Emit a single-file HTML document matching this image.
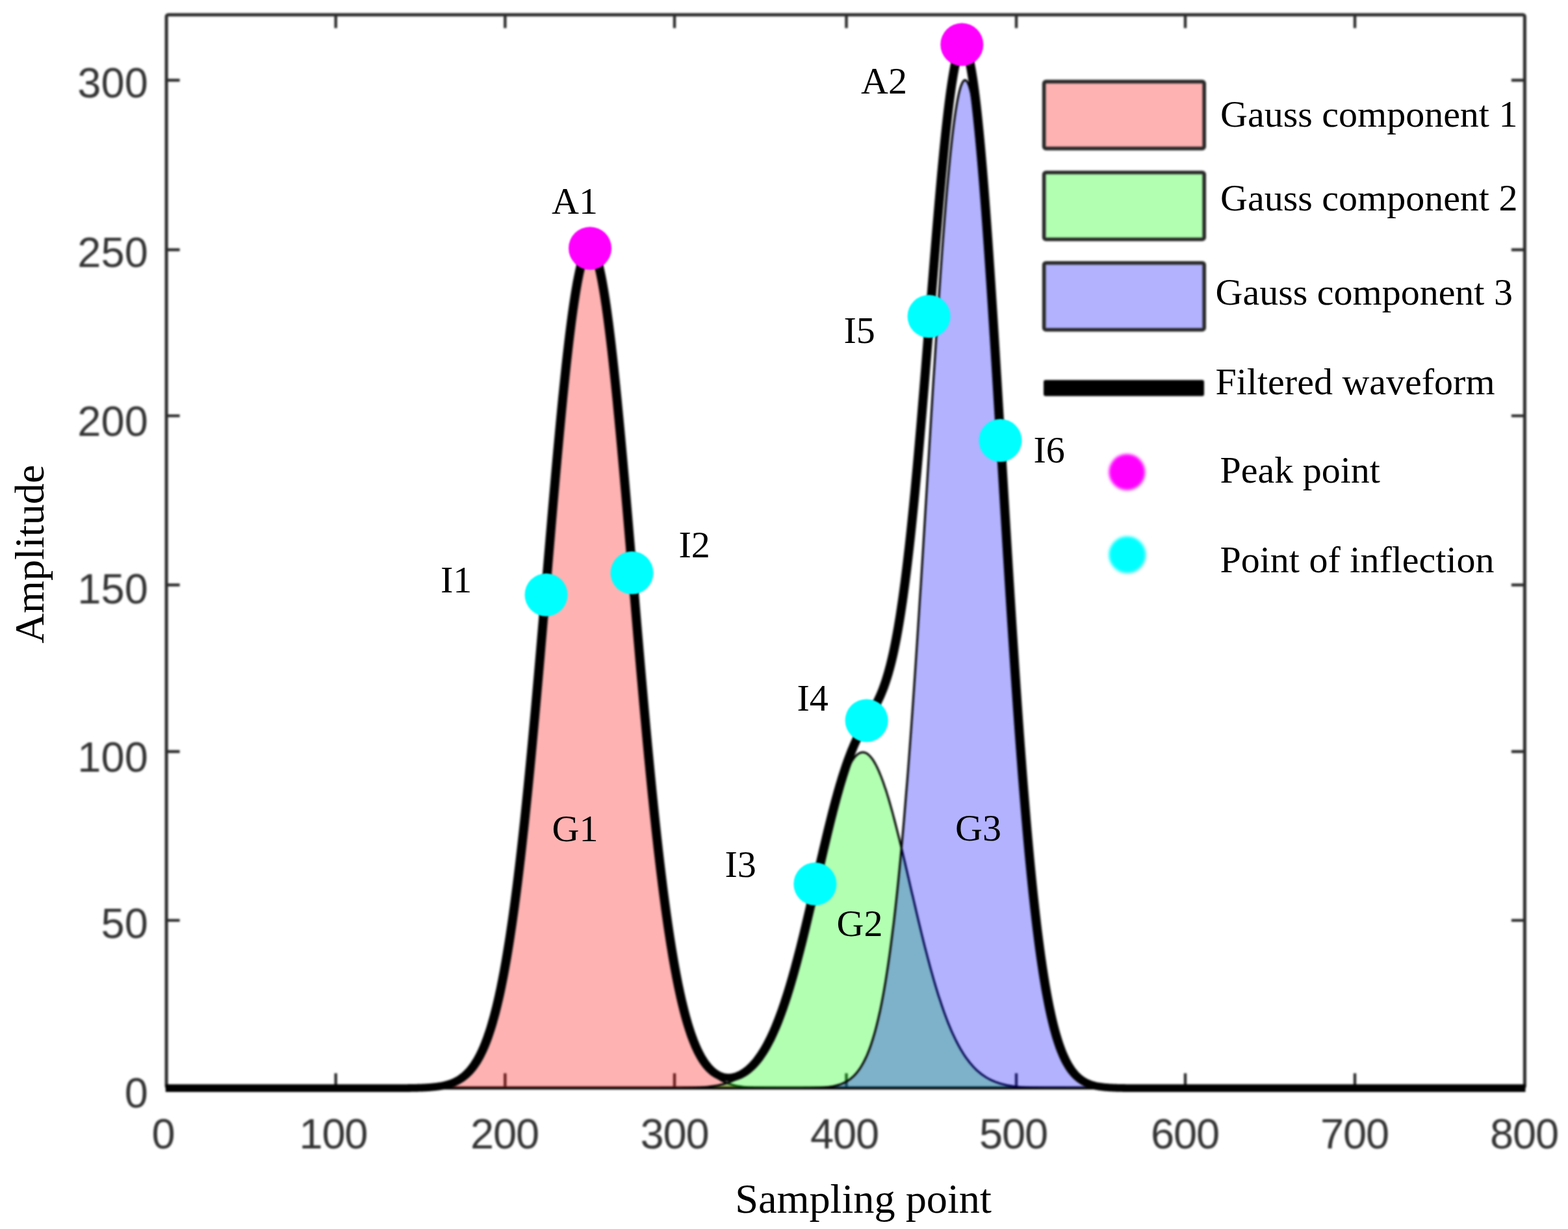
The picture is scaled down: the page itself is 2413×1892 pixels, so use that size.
<!DOCTYPE html>
<html lang="en"><head><meta charset="utf-8"><title>Gaussian decomposition of a filtered waveform</title>
<style>
html,body{margin:0;padding:0;background:#fff;}
body{width:2413px;height:1892px;}
svg{display:block;}
.tick{font-family:"Liberation Sans",Arial,sans-serif;font-size:65px;fill:#333333;}
.ser{font-family:"Liberation Serif","Times New Roman",serif;font-size:58px;fill:#000;}
.axl{font-family:"Liberation Serif","Times New Roman",serif;font-size:64.3px;fill:#000;}
</style></head><body>
<svg width="2413" height="1892" viewBox="0 0 2413 1892" role="img" aria-label="Gaussian decomposition of a filtered waveform">
<defs>
<filter id="soft" x="-2%" y="-2%" width="104%" height="104%" color-interpolation-filters="sRGB"><feGaussianBlur stdDeviation="1.5"/></filter>
<filter id="soft2" x="-20%" y="-20%" width="140%" height="140%" color-interpolation-filters="sRGB"><feGaussianBlur stdDeviation="1.0"/></filter>
<filter id="soft3" x="-25%" y="-25%" width="150%" height="150%" color-interpolation-filters="sRGB"><feGaussianBlur stdDeviation="2.4"/></filter>
</defs>
<rect x="0" y="0" width="2413" height="1892" fill="#fff"/>
<g id="plot" filter="url(#soft)">
<g id="axes" fill="none" stroke="#2c2c2c" stroke-width="5" stroke-linejoin="round">
<rect x="256.1" y="22.7" width="2090.3" height="1652.1" rx="3" ry="3"/>
<path stroke-width="4.4" d="M516.7,22.7 v20.5 M516.7,1674.8 v-22.5 M777.3,22.7 v20.5 M777.3,1674.8 v-22.5 M1038.0,22.7 v20.5 M1038.0,1674.8 v-22.5 M1302.5,22.7 v20.5 M1302.5,1674.8 v-22.5 M1564.0,22.7 v20.5 M1564.0,1674.8 v-22.5 M1824.0,22.7 v20.5 M1824.0,1674.8 v-22.5 M2085.0,22.7 v20.5 M2085.0,1674.8 v-22.5 M256.1,123.5 h20.5 M2346.4,123.5 h-20.5 M256.1,384.5 h20.5 M2346.4,384.5 h-20.5 M256.1,640.1 h20.5 M2346.4,640.1 h-20.5 M256.1,900.5 h20.5 M2346.4,900.5 h-20.5 M256.1,1157.0 h20.5 M2346.4,1157.0 h-20.5 M256.1,1416.9 h20.5 M2346.4,1416.9 h-20.5"/>
</g>
<g id="components" stroke="#000" stroke-opacity="1" stroke-width="3.1" stroke-linejoin="round">
<path fill="rgb(255,0,0)" fill-opacity="0.3" d="M622.4,1675.5 L622.4,1675.4 L623.7,1675.4 L625.0,1675.4 L626.3,1675.3 L627.6,1675.3 L628.9,1675.3 L630.2,1675.3 L631.5,1675.3 L632.8,1675.3 L634.1,1675.2 L635.4,1675.2 L636.7,1675.2 L638.0,1675.2 L639.3,1675.1 L640.6,1675.1 L642.0,1675.1 L643.3,1675.0 L644.6,1675.0 L645.9,1675.0 L647.2,1674.9 L648.5,1674.9 L649.8,1674.8 L651.1,1674.8 L652.4,1674.7 L653.7,1674.6 L655.0,1674.6 L656.3,1674.5 L657.6,1674.4 L658.9,1674.4 L660.2,1674.3 L661.5,1674.2 L662.9,1674.1 L664.2,1674.0 L665.5,1673.8 L666.8,1673.7 L668.1,1673.6 L669.4,1673.5 L670.7,1673.3 L672.0,1673.1 L673.3,1673.0 L674.6,1672.8 L675.9,1672.6 L677.2,1672.4 L678.5,1672.2 L679.8,1671.9 L681.1,1671.7 L682.4,1671.4 L683.8,1671.1 L685.1,1670.9 L686.4,1670.5 L687.7,1670.2 L689.0,1669.8 L690.3,1669.5 L691.6,1669.1 L692.9,1668.6 L694.2,1668.2 L695.5,1667.7 L696.8,1667.2 L698.1,1666.7 L699.4,1666.1 L700.7,1665.5 L702.0,1664.9 L703.3,1664.2 L704.7,1663.5 L706.0,1662.8 L707.3,1662.0 L708.6,1661.2 L709.9,1660.3 L711.2,1659.4 L712.5,1658.4 L713.8,1657.4 L715.1,1656.3 L716.4,1655.2 L717.7,1654.0 L719.0,1652.8 L720.3,1651.5 L721.6,1650.1 L722.9,1648.7 L724.2,1647.2 L725.6,1645.6 L726.9,1643.9 L728.2,1642.2 L729.5,1640.4 L730.8,1638.5 L732.1,1636.5 L733.4,1634.4 L734.7,1632.3 L736.0,1630.0 L737.3,1627.6 L738.6,1625.2 L739.9,1622.6 L741.2,1619.9 L742.5,1617.1 L743.8,1614.2 L745.1,1611.1 L746.5,1608.0 L747.8,1604.7 L749.1,1601.2 L750.4,1597.7 L751.7,1594.0 L753.0,1590.1 L754.3,1586.1 L755.6,1582.0 L756.9,1577.7 L758.2,1573.2 L759.5,1568.6 L760.8,1563.8 L762.1,1558.9 L763.4,1553.8 L764.7,1548.5 L766.0,1543.0 L767.4,1537.3 L768.7,1531.5 L770.0,1525.4 L771.3,1519.2 L772.6,1512.8 L773.9,1506.2 L775.2,1499.3 L776.5,1492.3 L777.8,1485.1 L779.1,1477.6 L780.4,1470.0 L781.7,1462.1 L783.0,1454.0 L784.3,1445.7 L785.6,1437.2 L786.9,1428.5 L788.3,1419.5 L789.6,1410.3 L790.9,1400.9 L792.2,1391.3 L793.5,1381.5 L794.8,1371.4 L796.1,1361.1 L797.4,1350.6 L798.7,1339.8 L800.0,1328.9 L801.3,1317.7 L802.6,1306.3 L803.9,1294.7 L805.2,1282.8 L806.5,1270.8 L807.8,1258.5 L809.2,1246.1 L810.5,1233.4 L811.8,1220.6 L813.1,1207.5 L814.4,1194.3 L815.7,1180.9 L817.0,1167.3 L818.3,1153.5 L819.6,1139.6 L820.9,1125.5 L822.2,1111.3 L823.5,1096.9 L824.8,1082.4 L826.1,1067.8 L827.4,1053.0 L828.7,1038.1 L830.1,1023.2 L831.4,1008.1 L832.7,992.9 L834.0,977.7 L835.3,962.4 L836.6,947.1 L837.9,931.7 L839.2,916.3 L840.5,900.8 L841.8,885.4 L843.1,870.0 L844.4,854.5 L845.7,839.1 L847.0,823.8 L848.3,808.5 L849.6,793.3 L851.0,778.1 L852.3,763.1 L853.6,748.1 L854.9,733.3 L856.2,718.6 L857.5,704.0 L858.8,689.6 L860.1,675.4 L861.4,661.4 L862.7,647.6 L864.0,634.0 L865.3,620.6 L866.6,607.4 L867.9,594.6 L869.2,582.0 L870.5,569.6 L871.9,557.6 L873.2,545.9 L874.5,534.4 L875.8,523.4 L877.1,512.6 L878.4,502.2 L879.7,492.2 L881.0,482.6 L882.3,473.3 L883.6,464.5 L884.9,456.0 L886.2,448.0 L887.5,440.4 L888.8,433.2 L890.1,426.5 L891.4,420.2 L892.8,414.4 L894.1,409.0 L895.4,404.1 L896.7,399.7 L898.0,395.8 L899.3,392.4 L900.6,389.4 L901.9,386.9 L903.2,385.0 L904.5,383.5 L905.8,382.5 L907.1,382.0 L908.4,382.1 L909.7,382.6 L911.0,383.6 L912.3,385.2 L913.7,387.2 L915.0,389.7 L916.3,392.7 L917.6,396.2 L918.9,400.2 L920.2,404.7 L921.5,409.6 L922.8,415.1 L924.1,420.9 L925.4,427.3 L926.7,434.1 L928.0,441.3 L929.3,448.9 L930.6,457.0 L931.9,465.5 L933.2,474.4 L934.6,483.7 L935.9,493.4 L937.2,503.5 L938.5,513.9 L939.8,524.7 L941.1,535.8 L942.4,547.2 L943.7,559.0 L945.0,571.1 L946.3,583.5 L947.6,596.1 L948.9,609.0 L950.2,622.2 L951.5,635.6 L952.8,649.2 L954.1,663.1 L955.5,677.1 L956.8,691.4 L958.1,705.8 L959.4,720.3 L960.7,735.0 L962.0,749.9 L963.3,764.9 L964.6,779.9 L965.9,795.1 L967.2,810.3 L968.5,825.6 L969.8,841.0 L971.1,856.4 L972.4,871.8 L973.7,887.2 L975.0,902.7 L976.4,918.1 L977.7,933.5 L979.0,948.9 L980.3,964.3 L981.6,979.5 L982.9,994.8 L984.2,1009.9 L985.5,1025.0 L986.8,1039.9 L988.1,1054.8 L989.4,1069.5 L990.7,1084.2 L992.0,1098.7 L993.3,1113.0 L994.6,1127.2 L995.9,1141.3 L997.3,1155.2 L998.6,1168.9 L999.9,1182.5 L1001.2,1195.9 L1002.5,1209.1 L1003.8,1222.1 L1005.1,1235.0 L1006.4,1247.6 L1007.7,1260.0 L1009.0,1272.2 L1010.3,1284.3 L1011.6,1296.1 L1012.9,1307.6 L1014.2,1319.0 L1015.5,1330.2 L1016.8,1341.1 L1018.2,1351.8 L1019.5,1362.3 L1020.8,1372.6 L1022.1,1382.6 L1023.4,1392.5 L1024.7,1402.1 L1026.0,1411.5 L1027.3,1420.6 L1028.6,1429.5 L1029.9,1438.2 L1031.2,1446.7 L1032.5,1455.0 L1033.8,1463.1 L1035.1,1470.9 L1036.4,1478.5 L1037.7,1486.0 L1039.1,1493.2 L1040.4,1500.2 L1041.7,1507.0 L1043.0,1513.6 L1044.3,1520.0 L1045.6,1526.2 L1046.9,1532.2 L1048.2,1538.0 L1049.5,1543.6 L1050.8,1549.1 L1052.1,1554.4 L1053.4,1559.5 L1054.7,1564.4 L1056.0,1569.2 L1057.3,1573.8 L1058.6,1578.2 L1060.0,1582.5 L1061.3,1586.6 L1062.6,1590.6 L1063.9,1594.4 L1065.2,1598.1 L1066.5,1601.6 L1067.8,1605.1 L1069.1,1608.3 L1070.4,1611.5 L1071.7,1614.5 L1073.0,1617.4 L1074.3,1620.2 L1075.6,1622.9 L1076.9,1625.5 L1078.2,1627.9 L1079.5,1630.3 L1080.9,1632.5 L1082.2,1634.7 L1083.5,1636.8 L1084.8,1638.7 L1086.1,1640.6 L1087.4,1642.4 L1088.7,1644.1 L1090.0,1645.8 L1091.3,1647.4 L1092.6,1648.9 L1093.9,1650.3 L1095.2,1651.6 L1096.5,1652.9 L1097.8,1654.2 L1099.1,1655.3 L1100.4,1656.5 L1101.8,1657.5 L1103.1,1658.5 L1104.4,1659.5 L1105.7,1660.4 L1107.0,1661.3 L1108.3,1662.1 L1109.6,1662.9 L1110.9,1663.6 L1112.2,1664.3 L1113.5,1665.0 L1114.8,1665.6 L1116.1,1666.2 L1117.4,1666.7 L1118.7,1667.3 L1120.0,1667.8 L1121.3,1668.2 L1122.7,1668.7 L1124.0,1669.1 L1125.3,1669.5 L1126.6,1669.9 L1127.9,1670.2 L1129.2,1670.6 L1130.5,1670.9 L1131.8,1671.2 L1133.1,1671.5 L1134.4,1671.7 L1135.7,1672.0 L1137.0,1672.2 L1138.3,1672.4 L1139.6,1672.6 L1140.9,1672.8 L1142.2,1673.0 L1143.6,1673.2 L1144.9,1673.3 L1146.2,1673.5 L1147.5,1673.6 L1148.8,1673.7 L1150.1,1673.9 L1151.4,1674.0 L1152.7,1674.1 L1154.0,1674.2 L1155.3,1674.3 L1156.6,1674.4 L1157.9,1674.4 L1159.2,1674.5 L1160.5,1674.6 L1161.8,1674.7 L1163.1,1674.7 L1164.5,1674.8 L1165.8,1674.8 L1167.1,1674.9 L1168.4,1674.9 L1169.7,1675.0 L1171.0,1675.0 L1172.3,1675.0 L1173.6,1675.1 L1174.9,1675.1 L1176.2,1675.1 L1177.5,1675.2 L1178.8,1675.2 L1180.1,1675.2 L1181.4,1675.2 L1182.7,1675.3 L1184.0,1675.3 L1185.4,1675.3 L1186.7,1675.3 L1188.0,1675.3 L1189.3,1675.3 L1190.6,1675.4 L1191.9,1675.4 L1193.2,1675.4 L1193.0,1675.5Z"/>
<path fill="rgb(0,255,0)" fill-opacity="0.3" d="M1015.5,1675.5 L1015.5,1675.5 L1016.8,1675.4 L1018.1,1675.4 L1019.4,1675.4 L1020.7,1675.4 L1022.0,1675.4 L1023.3,1675.4 L1024.6,1675.4 L1025.9,1675.4 L1027.2,1675.4 L1028.6,1675.4 L1029.9,1675.4 L1031.2,1675.4 L1032.5,1675.4 L1033.8,1675.4 L1035.1,1675.3 L1036.4,1675.3 L1037.7,1675.3 L1039.0,1675.3 L1040.3,1675.3 L1041.6,1675.3 L1042.9,1675.3 L1044.2,1675.2 L1045.5,1675.2 L1046.8,1675.2 L1048.1,1675.2 L1049.5,1675.2 L1050.8,1675.1 L1052.1,1675.1 L1053.4,1675.1 L1054.7,1675.1 L1056.0,1675.0 L1057.3,1675.0 L1058.6,1675.0 L1059.9,1674.9 L1061.2,1674.9 L1062.5,1674.8 L1063.8,1674.8 L1065.1,1674.8 L1066.4,1674.7 L1067.7,1674.6 L1069.0,1674.6 L1070.4,1674.5 L1071.7,1674.5 L1073.0,1674.4 L1074.3,1674.3 L1075.6,1674.3 L1076.9,1674.2 L1078.2,1674.1 L1079.5,1674.0 L1080.8,1673.9 L1082.1,1673.8 L1083.4,1673.7 L1084.7,1673.6 L1086.0,1673.5 L1087.3,1673.3 L1088.6,1673.2 L1089.9,1673.1 L1091.3,1672.9 L1092.6,1672.8 L1093.9,1672.6 L1095.2,1672.4 L1096.5,1672.3 L1097.8,1672.1 L1099.1,1671.9 L1100.4,1671.7 L1101.7,1671.4 L1103.0,1671.2 L1104.3,1671.0 L1105.6,1670.7 L1106.9,1670.4 L1108.2,1670.1 L1109.5,1669.8 L1110.8,1669.5 L1112.2,1669.2 L1113.5,1668.9 L1114.8,1668.5 L1116.1,1668.1 L1117.4,1667.7 L1118.7,1667.3 L1120.0,1666.9 L1121.3,1666.4 L1122.6,1665.9 L1123.9,1665.4 L1125.2,1664.9 L1126.5,1664.4 L1127.8,1663.8 L1129.1,1663.2 L1130.4,1662.6 L1131.7,1662.0 L1133.1,1661.3 L1134.4,1660.6 L1135.7,1659.9 L1137.0,1659.1 L1138.3,1658.3 L1139.6,1657.5 L1140.9,1656.6 L1142.2,1655.7 L1143.5,1654.8 L1144.8,1653.8 L1146.1,1652.8 L1147.4,1651.8 L1148.7,1650.7 L1150.0,1649.6 L1151.3,1648.5 L1152.6,1647.2 L1154.0,1646.0 L1155.3,1644.7 L1156.6,1643.4 L1157.9,1642.0 L1159.2,1640.5 L1160.5,1639.1 L1161.8,1637.5 L1163.1,1635.9 L1164.4,1634.3 L1165.7,1632.6 L1167.0,1630.9 L1168.3,1629.1 L1169.6,1627.2 L1170.9,1625.3 L1172.2,1623.3 L1173.5,1621.2 L1174.9,1619.1 L1176.2,1617.0 L1177.5,1614.7 L1178.8,1612.5 L1180.1,1610.1 L1181.4,1607.7 L1182.7,1605.2 L1184.0,1602.6 L1185.3,1600.0 L1186.6,1597.3 L1187.9,1594.5 L1189.2,1591.7 L1190.5,1588.8 L1191.8,1585.8 L1193.1,1582.7 L1194.4,1579.6 L1195.8,1576.4 L1197.1,1573.1 L1198.4,1569.8 L1199.7,1566.3 L1201.0,1562.8 L1202.3,1559.3 L1203.6,1555.6 L1204.9,1551.9 L1206.2,1548.1 L1207.5,1544.2 L1208.8,1540.3 L1210.1,1536.2 L1211.4,1532.1 L1212.7,1528.0 L1214.0,1523.7 L1215.3,1519.4 L1216.7,1515.0 L1218.0,1510.6 L1219.3,1506.1 L1220.6,1501.5 L1221.9,1496.8 L1223.2,1492.1 L1224.5,1487.3 L1225.8,1482.5 L1227.1,1477.6 L1228.4,1472.6 L1229.7,1467.6 L1231.0,1462.5 L1232.3,1457.4 L1233.6,1452.2 L1234.9,1447.0 L1236.2,1441.7 L1237.6,1436.4 L1238.9,1431.0 L1240.2,1425.6 L1241.5,1420.2 L1242.8,1414.7 L1244.1,1409.2 L1245.4,1403.7 L1246.7,1398.1 L1248.0,1392.5 L1249.3,1386.9 L1250.6,1381.3 L1251.9,1375.7 L1253.2,1370.0 L1254.5,1364.4 L1255.8,1358.7 L1257.1,1353.1 L1258.5,1347.5 L1259.8,1341.8 L1261.1,1336.2 L1262.4,1330.6 L1263.7,1325.1 L1265.0,1319.5 L1266.3,1314.0 L1267.6,1308.5 L1268.9,1303.0 L1270.2,1297.6 L1271.5,1292.3 L1272.8,1287.0 L1274.1,1281.7 L1275.4,1276.5 L1276.7,1271.3 L1278.0,1266.3 L1279.4,1261.3 L1280.7,1256.3 L1282.0,1251.5 L1283.3,1246.7 L1284.6,1242.0 L1285.9,1237.4 L1287.2,1232.9 L1288.5,1228.5 L1289.8,1224.2 L1291.1,1220.1 L1292.4,1216.0 L1293.7,1212.0 L1295.0,1208.1 L1296.3,1204.4 L1297.6,1200.8 L1298.9,1197.3 L1300.3,1194.0 L1301.6,1190.8 L1302.9,1187.7 L1304.2,1184.7 L1305.5,1181.9 L1306.8,1179.3 L1308.1,1176.8 L1309.4,1174.4 L1310.7,1172.2 L1312.0,1170.2 L1313.3,1168.3 L1314.6,1166.5 L1315.9,1165.0 L1317.2,1163.5 L1318.5,1162.3 L1319.8,1161.2 L1321.2,1160.3 L1322.5,1159.5 L1323.8,1158.9 L1325.1,1158.5 L1326.4,1158.2 L1327.7,1158.1 L1329.0,1158.2 L1330.3,1158.4 L1331.6,1158.8 L1332.9,1159.4 L1334.2,1160.1 L1335.5,1161.0 L1336.8,1162.1 L1338.1,1163.3 L1339.4,1164.7 L1340.7,1166.3 L1342.1,1168.0 L1343.4,1169.9 L1344.7,1171.9 L1346.0,1174.1 L1347.3,1176.4 L1348.6,1178.9 L1349.9,1181.5 L1351.2,1184.3 L1352.5,1187.2 L1353.8,1190.3 L1355.1,1193.5 L1356.4,1196.8 L1357.7,1200.2 L1359.0,1203.8 L1360.3,1207.5 L1361.6,1211.4 L1363.0,1215.3 L1364.3,1219.4 L1365.6,1223.6 L1366.9,1227.8 L1368.2,1232.2 L1369.5,1236.7 L1370.8,1241.3 L1372.1,1246.0 L1373.4,1250.7 L1374.7,1255.6 L1376.0,1260.5 L1377.3,1265.5 L1378.6,1270.5 L1379.9,1275.7 L1381.2,1280.9 L1382.5,1286.1 L1383.9,1291.4 L1385.2,1296.8 L1386.5,1302.2 L1387.8,1307.6 L1389.1,1313.1 L1390.4,1318.6 L1391.7,1324.2 L1393.0,1329.7 L1394.3,1335.3 L1395.6,1340.9 L1396.9,1346.6 L1398.2,1352.2 L1399.5,1357.8 L1400.8,1363.5 L1402.1,1369.1 L1403.4,1374.8 L1404.8,1380.4 L1406.1,1386.0 L1407.4,1391.6 L1408.7,1397.2 L1410.0,1402.8 L1411.3,1408.3 L1412.6,1413.8 L1413.9,1419.3 L1415.2,1424.7 L1416.5,1430.2 L1417.8,1435.5 L1419.1,1440.8 L1420.4,1446.1 L1421.7,1451.4 L1423.0,1456.6 L1424.3,1461.7 L1425.7,1466.8 L1427.0,1471.8 L1428.3,1476.8 L1429.6,1481.7 L1430.9,1486.6 L1432.2,1491.4 L1433.5,1496.1 L1434.8,1500.7 L1436.1,1505.3 L1437.4,1509.9 L1438.7,1514.3 L1440.0,1518.7 L1441.3,1523.0 L1442.6,1527.3 L1443.9,1531.5 L1445.2,1535.6 L1446.6,1539.6 L1447.9,1543.6 L1449.2,1547.5 L1450.5,1551.3 L1451.8,1555.0 L1453.1,1558.7 L1454.4,1562.3 L1455.7,1565.8 L1457.0,1569.2 L1458.3,1572.6 L1459.6,1575.9 L1460.9,1579.1 L1462.2,1582.2 L1463.5,1585.3 L1464.8,1588.3 L1466.1,1591.2 L1467.5,1594.1 L1468.8,1596.8 L1470.1,1599.6 L1471.4,1602.2 L1472.7,1604.8 L1474.0,1607.3 L1475.3,1609.7 L1476.6,1612.1 L1477.9,1614.4 L1479.2,1616.6 L1480.5,1618.8 L1481.8,1620.9 L1483.1,1623.0 L1484.4,1625.0 L1485.7,1626.9 L1487.0,1628.8 L1488.4,1630.6 L1489.7,1632.3 L1491.0,1634.0 L1492.3,1635.7 L1493.6,1637.3 L1494.9,1638.8 L1496.2,1640.3 L1497.5,1641.8 L1498.8,1643.2 L1500.1,1644.5 L1501.4,1645.8 L1502.7,1647.1 L1504.0,1648.3 L1505.3,1649.4 L1506.6,1650.6 L1507.9,1651.6 L1509.3,1652.7 L1510.6,1653.7 L1511.9,1654.7 L1513.2,1655.6 L1514.5,1656.5 L1515.8,1657.3 L1517.1,1658.2 L1518.4,1659.0 L1519.7,1659.7 L1521.0,1660.5 L1522.3,1661.2 L1523.6,1661.9 L1524.9,1662.5 L1526.2,1663.1 L1527.5,1663.7 L1528.8,1664.3 L1530.2,1664.8 L1531.5,1665.4 L1532.8,1665.9 L1534.1,1666.3 L1535.4,1666.8 L1536.7,1667.2 L1538.0,1667.7 L1539.3,1668.0 L1540.6,1668.4 L1541.9,1668.8 L1543.2,1669.1 L1544.5,1669.5 L1545.8,1669.8 L1547.1,1670.1 L1548.4,1670.4 L1549.7,1670.7 L1551.1,1670.9 L1552.4,1671.2 L1553.7,1671.4 L1555.0,1671.6 L1556.3,1671.8 L1557.6,1672.0 L1558.9,1672.2 L1560.2,1672.4 L1561.5,1672.6 L1562.8,1672.7 L1564.1,1672.9 L1565.4,1673.1 L1566.7,1673.2 L1568.0,1673.3 L1569.3,1673.4 L1570.6,1673.6 L1572.0,1673.7 L1573.3,1673.8 L1574.6,1673.9 L1575.9,1674.0 L1577.2,1674.1 L1578.5,1674.2 L1579.8,1674.2 L1581.1,1674.3 L1582.4,1674.4 L1583.7,1674.5 L1585.0,1674.5 L1586.3,1674.6 L1587.6,1674.6 L1588.9,1674.7 L1590.2,1674.7 L1591.5,1674.8 L1592.9,1674.8 L1594.2,1674.9 L1595.5,1674.9 L1596.8,1675.0 L1598.1,1675.0 L1599.4,1675.0 L1600.7,1675.1 L1602.0,1675.1 L1603.3,1675.1 L1604.6,1675.1 L1605.9,1675.2 L1607.2,1675.2 L1608.5,1675.2 L1609.8,1675.2 L1611.1,1675.2 L1612.4,1675.3 L1613.8,1675.3 L1615.1,1675.3 L1616.4,1675.3 L1617.7,1675.3 L1619.0,1675.3 L1620.3,1675.3 L1621.6,1675.4 L1622.9,1675.4 L1624.2,1675.4 L1625.5,1675.4 L1626.8,1675.4 L1628.1,1675.4 L1629.4,1675.4 L1630.7,1675.4 L1632.0,1675.4 L1633.3,1675.4 L1634.7,1675.4 L1636.0,1675.4 L1637.3,1675.4 L1638.6,1675.4 L1639.9,1675.4 L1640.1,1675.5Z"/>
<path fill="rgb(0,0,255)" fill-opacity="0.3" d="M1236.8,1675.5 L1236.8,1675.4 L1238.1,1675.3 L1239.4,1675.3 L1240.7,1675.3 L1242.0,1675.3 L1243.3,1675.3 L1244.6,1675.2 L1245.9,1675.2 L1247.2,1675.2 L1248.5,1675.1 L1249.9,1675.1 L1251.2,1675.1 L1252.5,1675.0 L1253.8,1675.0 L1255.1,1674.9 L1256.4,1674.9 L1257.7,1674.8 L1259.0,1674.8 L1260.3,1674.7 L1261.6,1674.6 L1262.9,1674.6 L1264.2,1674.5 L1265.5,1674.4 L1266.8,1674.3 L1268.1,1674.2 L1269.4,1674.0 L1270.8,1673.9 L1272.1,1673.8 L1273.4,1673.6 L1274.7,1673.5 L1276.0,1673.3 L1277.3,1673.1 L1278.6,1672.9 L1279.9,1672.7 L1281.2,1672.5 L1282.5,1672.2 L1283.8,1671.9 L1285.1,1671.6 L1286.4,1671.3 L1287.7,1671.0 L1289.0,1670.6 L1290.3,1670.2 L1291.7,1669.8 L1293.0,1669.4 L1294.3,1668.9 L1295.6,1668.4 L1296.9,1667.8 L1298.2,1667.3 L1299.5,1666.6 L1300.8,1666.0 L1302.1,1665.3 L1303.4,1664.5 L1304.7,1663.7 L1306.0,1662.8 L1307.3,1661.9 L1308.6,1660.9 L1309.9,1659.9 L1311.2,1658.8 L1312.6,1657.6 L1313.9,1656.4 L1315.2,1655.0 L1316.5,1653.6 L1317.8,1652.2 L1319.1,1650.6 L1320.4,1648.9 L1321.7,1647.1 L1323.0,1645.3 L1324.3,1643.3 L1325.6,1641.2 L1326.9,1639.0 L1328.2,1636.7 L1329.5,1634.3 L1330.8,1631.7 L1332.1,1629.0 L1333.5,1626.1 L1334.8,1623.1 L1336.1,1619.9 L1337.4,1616.6 L1338.7,1613.1 L1340.0,1609.4 L1341.3,1605.6 L1342.6,1601.6 L1343.9,1597.3 L1345.2,1592.9 L1346.5,1588.3 L1347.8,1583.4 L1349.1,1578.4 L1350.4,1573.1 L1351.7,1567.6 L1353.0,1561.8 L1354.4,1555.8 L1355.7,1549.5 L1357.0,1543.0 L1358.3,1536.2 L1359.6,1529.2 L1360.9,1521.8 L1362.2,1514.2 L1363.5,1506.3 L1364.8,1498.1 L1366.1,1489.6 L1367.4,1480.8 L1368.7,1471.6 L1370.0,1462.2 L1371.3,1452.4 L1372.6,1442.3 L1373.9,1431.9 L1375.3,1421.1 L1376.6,1410.0 L1377.9,1398.5 L1379.2,1386.7 L1380.5,1374.5 L1381.8,1362.0 L1383.1,1349.2 L1384.4,1335.9 L1385.7,1322.4 L1387.0,1308.4 L1388.3,1294.2 L1389.6,1279.5 L1390.9,1264.6 L1392.2,1249.2 L1393.5,1233.5 L1394.8,1217.5 L1396.2,1201.2 L1397.5,1184.5 L1398.8,1167.5 L1400.1,1150.1 L1401.4,1132.5 L1402.7,1114.5 L1404.0,1096.3 L1405.3,1077.7 L1406.6,1058.9 L1407.9,1039.8 L1409.2,1020.5 L1410.5,1000.9 L1411.8,981.1 L1413.1,961.0 L1414.4,940.8 L1415.7,920.4 L1417.1,899.8 L1418.4,879.0 L1419.7,858.2 L1421.0,837.2 L1422.3,816.1 L1423.6,794.9 L1424.9,773.6 L1426.2,752.4 L1427.5,731.1 L1428.8,709.8 L1430.1,688.5 L1431.4,667.3 L1432.7,646.1 L1434.0,625.1 L1435.3,604.1 L1436.6,583.3 L1438.0,562.7 L1439.3,542.3 L1440.6,522.0 L1441.9,502.0 L1443.2,482.3 L1444.5,462.9 L1445.8,443.8 L1447.1,425.0 L1448.4,406.6 L1449.7,388.6 L1451.0,370.9 L1452.3,353.8 L1453.6,337.0 L1454.9,320.8 L1456.2,305.1 L1457.5,289.9 L1458.9,275.2 L1460.2,261.1 L1461.5,247.6 L1462.8,234.7 L1464.1,222.5 L1465.4,210.8 L1466.7,199.9 L1468.0,189.6 L1469.3,180.0 L1470.6,171.1 L1471.9,163.0 L1473.2,155.6 L1474.5,148.9 L1475.8,143.0 L1477.1,137.8 L1478.4,133.4 L1479.8,129.8 L1481.1,127.0 L1482.4,125.0 L1483.7,123.7 L1485.0,123.3 L1486.3,123.7 L1487.6,124.8 L1488.9,126.7 L1490.2,129.5 L1491.5,133.0 L1492.8,137.3 L1494.1,142.3 L1495.4,148.1 L1496.7,154.7 L1498.0,162.1 L1499.3,170.1 L1500.7,178.9 L1502.0,188.4 L1503.3,198.6 L1504.6,209.5 L1505.9,221.0 L1507.2,233.2 L1508.5,246.0 L1509.8,259.5 L1511.1,273.5 L1512.4,288.1 L1513.7,303.2 L1515.0,318.9 L1516.3,335.1 L1517.6,351.7 L1518.9,368.9 L1520.2,386.4 L1521.6,404.4 L1522.9,422.8 L1524.2,441.5 L1525.5,460.6 L1526.8,480.0 L1528.1,499.7 L1529.4,519.6 L1530.7,539.8 L1532.0,560.2 L1533.3,580.8 L1534.6,601.6 L1535.9,622.5 L1537.2,643.6 L1538.5,664.7 L1539.8,685.9 L1541.1,707.2 L1542.5,728.5 L1543.8,749.8 L1545.1,771.1 L1546.4,792.3 L1547.7,813.5 L1549.0,834.6 L1550.3,855.6 L1551.6,876.5 L1552.9,897.3 L1554.2,917.9 L1555.5,938.4 L1556.8,958.6 L1558.1,978.7 L1559.4,998.5 L1560.7,1018.1 L1562.0,1037.5 L1563.4,1056.6 L1564.7,1075.5 L1566.0,1094.0 L1567.3,1112.3 L1568.6,1130.3 L1569.9,1148.0 L1571.2,1165.4 L1572.5,1182.5 L1573.8,1199.2 L1575.1,1215.6 L1576.4,1231.6 L1577.7,1247.4 L1579.0,1262.7 L1580.3,1277.8 L1581.6,1292.4 L1582.9,1306.8 L1584.3,1320.7 L1585.6,1334.3 L1586.9,1347.6 L1588.2,1360.5 L1589.5,1373.0 L1590.8,1385.3 L1592.1,1397.1 L1593.4,1408.6 L1594.7,1419.8 L1596.0,1430.6 L1597.3,1441.1 L1598.6,1451.2 L1599.9,1461.0 L1601.2,1470.5 L1602.5,1479.7 L1603.8,1488.5 L1605.2,1497.1 L1606.5,1505.3 L1607.8,1513.3 L1609.1,1520.9 L1610.4,1528.3 L1611.7,1535.4 L1613.0,1542.2 L1614.3,1548.8 L1615.6,1555.1 L1616.9,1561.1 L1618.2,1566.9 L1619.5,1572.4 L1620.8,1577.7 L1622.1,1582.8 L1623.4,1587.7 L1624.7,1592.4 L1626.1,1596.8 L1627.4,1601.1 L1628.7,1605.1 L1630.0,1609.0 L1631.3,1612.7 L1632.6,1616.2 L1633.9,1619.5 L1635.2,1622.7 L1636.5,1625.7 L1637.8,1628.6 L1639.1,1631.4 L1640.4,1634.0 L1641.7,1636.4 L1643.0,1638.8 L1644.3,1641.0 L1645.6,1643.1 L1647.0,1645.1 L1648.3,1646.9 L1649.6,1648.7 L1650.9,1650.4 L1652.2,1652.0 L1653.5,1653.5 L1654.8,1654.9 L1656.1,1656.2 L1657.4,1657.5 L1658.7,1658.7 L1660.0,1659.8 L1661.3,1660.8 L1662.6,1661.8 L1663.9,1662.7 L1665.2,1663.6 L1666.5,1664.4 L1667.9,1665.2 L1669.2,1665.9 L1670.5,1666.6 L1671.8,1667.2 L1673.1,1667.8 L1674.4,1668.3 L1675.7,1668.8 L1677.0,1669.3 L1678.3,1669.8 L1679.6,1670.2 L1680.9,1670.6 L1682.2,1670.9 L1683.5,1671.3 L1684.8,1671.6 L1686.1,1671.9 L1687.4,1672.2 L1688.8,1672.4 L1690.1,1672.7 L1691.4,1672.9 L1692.7,1673.1 L1694.0,1673.3 L1695.3,1673.4 L1696.6,1673.6 L1697.9,1673.8 L1699.2,1673.9 L1700.5,1674.0 L1701.8,1674.2 L1703.1,1674.3 L1704.4,1674.4 L1705.7,1674.5 L1707.0,1674.5 L1708.3,1674.6 L1709.7,1674.7 L1711.0,1674.8 L1712.3,1674.8 L1713.6,1674.9 L1714.9,1674.9 L1716.2,1675.0 L1717.5,1675.0 L1718.8,1675.1 L1720.1,1675.1 L1721.4,1675.1 L1722.7,1675.2 L1724.0,1675.2 L1725.3,1675.2 L1726.6,1675.3 L1727.9,1675.3 L1729.2,1675.3 L1730.6,1675.3 L1731.9,1675.3 L1733.2,1675.3 L1733.3,1675.5Z"/>
</g>
<g transform="scale(1.19,1)"><path id="waveform" fill="none" stroke="#000" stroke-width="11.8" stroke-linejoin="round" stroke-linecap="butt" d="M214.14,1675.20 L215.24,1675.20 L216.34,1675.20 L217.44,1675.20 L218.54,1675.20 L219.63,1675.20 L220.73,1675.20 L221.83,1675.20 L222.93,1675.20 L224.02,1675.20 L225.12,1675.20 L226.22,1675.20 L227.32,1675.20 L228.41,1675.20 L229.51,1675.20 L230.61,1675.20 L231.71,1675.20 L232.81,1675.20 L233.90,1675.20 L235.00,1675.20 L236.10,1675.20 L237.20,1675.20 L238.29,1675.20 L239.39,1675.20 L240.49,1675.20 L241.59,1675.20 L242.68,1675.20 L243.78,1675.20 L244.88,1675.20 L245.98,1675.20 L247.08,1675.20 L248.17,1675.20 L249.27,1675.20 L250.37,1675.20 L251.47,1675.20 L252.56,1675.20 L253.66,1675.20 L254.76,1675.20 L255.86,1675.20 L256.95,1675.20 L258.05,1675.20 L259.15,1675.20 L260.25,1675.20 L261.35,1675.20 L262.44,1675.20 L263.54,1675.20 L264.64,1675.20 L265.74,1675.20 L266.83,1675.20 L267.93,1675.20 L269.03,1675.20 L270.13,1675.20 L271.22,1675.20 L272.32,1675.20 L273.42,1675.20 L274.52,1675.20 L275.62,1675.20 L276.71,1675.20 L277.81,1675.20 L278.91,1675.20 L280.01,1675.20 L281.10,1675.20 L282.20,1675.20 L283.30,1675.20 L284.40,1675.20 L285.49,1675.20 L286.59,1675.20 L287.69,1675.20 L288.79,1675.20 L289.89,1675.20 L290.98,1675.20 L292.08,1675.20 L293.18,1675.20 L294.28,1675.20 L295.37,1675.20 L296.47,1675.20 L297.57,1675.20 L298.67,1675.20 L299.76,1675.20 L300.86,1675.20 L301.96,1675.20 L303.06,1675.20 L304.16,1675.20 L305.25,1675.20 L306.35,1675.20 L307.45,1675.20 L308.55,1675.20 L309.64,1675.20 L310.74,1675.20 L311.84,1675.20 L312.94,1675.20 L314.03,1675.20 L315.13,1675.20 L316.23,1675.20 L317.33,1675.20 L318.43,1675.20 L319.52,1675.20 L320.62,1675.20 L321.72,1675.20 L322.82,1675.20 L323.91,1675.20 L325.01,1675.20 L326.11,1675.20 L327.21,1675.20 L328.30,1675.20 L329.40,1675.20 L330.50,1675.20 L331.60,1675.20 L332.70,1675.20 L333.79,1675.20 L334.89,1675.20 L335.99,1675.20 L337.09,1675.20 L338.18,1675.20 L339.28,1675.20 L340.38,1675.20 L341.48,1675.20 L342.57,1675.20 L343.67,1675.20 L344.77,1675.20 L345.87,1675.20 L346.97,1675.20 L348.06,1675.20 L349.16,1675.20 L350.26,1675.20 L351.36,1675.20 L352.45,1675.20 L353.55,1675.20 L354.65,1675.20 L355.75,1675.20 L356.84,1675.20 L357.94,1675.20 L359.04,1675.20 L360.14,1675.20 L361.24,1675.20 L362.33,1675.20 L363.43,1675.20 L364.53,1675.20 L365.63,1675.20 L366.72,1675.20 L367.82,1675.20 L368.92,1675.20 L370.02,1675.20 L371.11,1675.20 L372.21,1675.20 L373.31,1675.20 L374.41,1675.20 L375.51,1675.20 L376.60,1675.20 L377.70,1675.20 L378.80,1675.20 L379.90,1675.20 L380.99,1675.20 L382.09,1675.20 L383.19,1675.20 L384.29,1675.20 L385.38,1675.20 L386.48,1675.20 L387.58,1675.20 L388.68,1675.20 L389.78,1675.20 L390.87,1675.20 L391.97,1675.20 L393.07,1675.20 L394.17,1675.20 L395.26,1675.20 L396.36,1675.20 L397.46,1675.20 L398.56,1675.20 L399.65,1675.20 L400.75,1675.20 L401.85,1675.20 L402.95,1675.20 L404.05,1675.20 L405.14,1675.20 L406.24,1675.20 L407.34,1675.20 L408.44,1675.20 L409.53,1675.20 L410.63,1675.20 L411.73,1675.20 L412.83,1675.20 L413.92,1675.20 L415.02,1675.20 L416.12,1675.20 L417.22,1675.20 L418.32,1675.20 L419.41,1675.20 L420.51,1675.20 L421.61,1675.20 L422.71,1675.20 L423.80,1675.20 L424.90,1675.20 L426.00,1675.20 L427.10,1675.20 L428.19,1675.20 L429.29,1675.20 L430.39,1675.20 L431.49,1675.20 L432.59,1675.20 L433.68,1675.20 L434.78,1675.20 L435.88,1675.20 L436.98,1675.20 L438.07,1675.20 L439.17,1675.20 L440.27,1675.20 L441.37,1675.20 L442.46,1675.20 L443.56,1675.20 L444.66,1675.20 L445.76,1675.20 L446.86,1675.20 L447.95,1675.20 L449.05,1675.20 L450.15,1675.20 L451.25,1675.20 L452.34,1675.20 L453.44,1675.20 L454.54,1675.20 L455.64,1675.20 L456.73,1675.20 L457.83,1675.20 L458.93,1675.20 L460.03,1675.20 L461.12,1675.20 L462.22,1675.20 L463.32,1675.20 L464.42,1675.20 L465.52,1675.20 L466.61,1675.20 L467.71,1675.20 L468.81,1675.20 L469.91,1675.20 L471.00,1675.20 L472.10,1675.20 L473.20,1675.20 L474.30,1675.20 L475.39,1675.20 L476.49,1675.20 L477.59,1675.20 L478.69,1675.20 L479.79,1675.20 L480.88,1675.20 L481.98,1675.20 L483.08,1675.20 L484.18,1675.20 L485.27,1675.19 L486.37,1675.19 L487.47,1675.19 L488.57,1675.19 L489.66,1675.19 L490.76,1675.19 L491.86,1675.19 L492.96,1675.19 L494.06,1675.19 L495.15,1675.19 L496.25,1675.19 L497.35,1675.18 L498.45,1675.18 L499.54,1675.18 L500.64,1675.18 L501.74,1675.18 L502.84,1675.18 L503.93,1675.17 L505.03,1675.17 L506.13,1675.17 L507.23,1675.16 L508.33,1675.16 L509.42,1675.16 L510.52,1675.15 L511.62,1675.15 L512.72,1675.14 L513.81,1675.14 L514.91,1675.13 L516.01,1675.13 L517.11,1675.12 L518.20,1675.11 L519.30,1675.11 L520.40,1675.10 L521.50,1675.09 L522.60,1675.08 L523.69,1675.07 L524.79,1675.06 L525.89,1675.04 L526.99,1675.03 L528.08,1675.02 L529.18,1675.00 L530.28,1674.98 L531.38,1674.96 L532.47,1674.94 L533.57,1674.92 L534.67,1674.90 L535.77,1674.87 L536.87,1674.85 L537.96,1674.82 L539.06,1674.79 L540.16,1674.75 L541.26,1674.72 L542.35,1674.68 L543.45,1674.63 L544.55,1674.59 L545.65,1674.54 L546.74,1674.49 L547.84,1674.43 L548.94,1674.37 L550.04,1674.31 L551.14,1674.24 L552.23,1674.16 L553.33,1674.08 L554.43,1674.00 L555.53,1673.90 L556.62,1673.81 L557.72,1673.70 L558.82,1673.59 L559.92,1673.47 L561.01,1673.34 L562.11,1673.20 L563.21,1673.06 L564.31,1672.90 L565.41,1672.74 L566.50,1672.56 L567.60,1672.37 L568.70,1672.17 L569.80,1671.95 L570.89,1671.73 L571.99,1671.48 L573.09,1671.23 L574.19,1670.95 L575.28,1670.66 L576.38,1670.35 L577.48,1670.02 L578.58,1669.67 L579.68,1669.30 L580.77,1668.91 L581.87,1668.49 L582.97,1668.05 L584.07,1667.59 L585.16,1667.09 L586.26,1666.57 L587.36,1666.02 L588.46,1665.43 L589.55,1664.81 L590.65,1664.16 L591.75,1663.47 L592.85,1662.74 L593.95,1661.98 L595.04,1661.17 L596.14,1660.31 L597.24,1659.41 L598.34,1658.47 L599.43,1657.47 L600.53,1656.42 L601.63,1655.32 L602.73,1654.16 L603.82,1652.94 L604.92,1651.66 L606.02,1650.32 L607.12,1648.91 L608.22,1647.43 L609.31,1645.87 L610.41,1644.25 L611.51,1642.54 L612.61,1640.76 L613.70,1638.89 L614.80,1636.94 L615.90,1634.89 L617.00,1632.76 L618.09,1630.52 L619.19,1628.19 L620.29,1625.76 L621.39,1623.22 L622.49,1620.57 L623.58,1617.81 L624.68,1614.93 L625.78,1611.93 L626.88,1608.81 L627.97,1605.56 L629.07,1602.18 L630.17,1598.66 L631.27,1595.01 L632.36,1591.22 L633.46,1587.28 L634.56,1583.19 L635.66,1578.95 L636.76,1574.55 L637.85,1569.99 L638.95,1565.27 L640.05,1560.38 L641.15,1555.32 L642.24,1550.08 L643.34,1544.67 L644.44,1539.08 L645.54,1533.30 L646.63,1527.33 L647.73,1521.17 L648.83,1514.82 L649.93,1508.27 L651.03,1501.52 L652.12,1494.56 L653.22,1487.41 L654.32,1480.04 L655.42,1472.46 L656.51,1464.67 L657.61,1456.67 L658.71,1448.45 L659.81,1440.01 L660.90,1431.35 L662.00,1422.47 L663.10,1413.37 L664.20,1404.04 L665.30,1394.50 L666.39,1384.73 L667.49,1374.73 L668.59,1364.51 L669.69,1354.07 L670.78,1343.41 L671.88,1332.52 L672.98,1321.42 L674.08,1310.10 L675.17,1298.56 L676.27,1286.80 L677.37,1274.84 L678.47,1262.67 L679.57,1250.29 L680.66,1237.70 L681.76,1224.93 L682.86,1211.95 L683.96,1198.79 L685.05,1185.44 L686.15,1171.92 L687.25,1158.22 L688.35,1144.36 L689.44,1130.33 L690.54,1116.15 L691.64,1101.82 L692.74,1087.36 L693.84,1072.76 L694.93,1058.04 L696.03,1043.20 L697.13,1028.26 L698.23,1013.23 L699.32,998.10 L700.42,982.90 L701.52,967.63 L702.62,952.30 L703.71,936.93 L704.81,921.52 L705.91,906.09 L707.01,890.65 L708.11,875.21 L709.20,859.78 L710.30,844.38 L711.40,829.01 L712.50,813.69 L713.59,798.43 L714.69,783.25 L715.79,768.16 L716.89,753.17 L717.98,738.29 L719.08,723.55 L720.18,708.95 L721.28,694.50 L722.38,680.22 L723.47,666.13 L724.57,652.23 L725.67,638.54 L726.77,625.08 L727.86,611.85 L728.96,598.88 L730.06,586.16 L731.16,573.73 L732.25,561.58 L733.35,549.74 L734.45,538.21 L735.55,527.01 L736.64,516.15 L737.74,505.63 L738.84,495.48 L739.94,485.71 L741.04,476.31 L742.13,467.31 L743.23,458.72 L744.33,450.53 L745.43,442.77 L746.52,435.45 L747.62,428.56 L748.72,422.12 L749.82,416.13 L750.91,410.60 L752.01,405.55 L753.11,400.96 L754.21,396.86 L755.31,393.24 L756.40,390.10 L757.50,387.46 L758.60,385.31 L759.70,383.66 L760.79,382.51 L761.89,381.86 L762.99,381.71 L764.09,382.06 L765.18,382.91 L766.28,384.26 L767.38,386.11 L768.48,388.46 L769.58,391.30 L770.67,394.63 L771.77,398.44 L772.87,402.74 L773.97,407.51 L775.06,412.76 L776.16,418.47 L777.26,424.64 L778.36,431.26 L779.45,438.33 L780.55,445.83 L781.65,453.76 L782.75,462.11 L783.85,470.86 L784.94,480.02 L786.04,489.57 L787.14,499.50 L788.24,509.80 L789.33,520.45 L790.43,531.45 L791.53,542.78 L792.63,554.44 L793.72,566.40 L794.82,578.67 L795.92,591.21 L797.02,604.03 L798.12,617.11 L799.21,630.43 L800.31,643.99 L801.41,657.76 L802.51,671.74 L803.60,685.91 L804.70,700.26 L805.80,714.77 L806.90,729.43 L807.99,744.23 L809.09,759.15 L810.19,774.18 L811.29,789.31 L812.39,804.52 L813.48,819.81 L814.58,835.15 L815.68,850.53 L816.78,865.95 L817.87,881.38 L818.97,896.83 L820.07,912.26 L821.17,927.69 L822.26,943.08 L823.36,958.43 L824.46,973.74 L825.56,988.98 L826.66,1004.15 L827.75,1019.24 L828.85,1034.24 L829.95,1049.14 L831.05,1063.93 L832.14,1078.60 L833.24,1093.15 L834.34,1107.56 L835.44,1121.83 L836.53,1135.95 L837.63,1149.91 L838.73,1163.70 L839.83,1177.33 L840.93,1190.78 L842.02,1204.06 L843.12,1217.14 L844.22,1230.03 L845.32,1242.73 L846.41,1255.23 L847.51,1267.53 L848.61,1279.61 L849.71,1291.49 L850.80,1303.16 L851.90,1314.61 L853.00,1325.84 L854.10,1336.85 L855.20,1347.64 L856.29,1358.21 L857.39,1368.56 L858.49,1378.68 L859.59,1388.58 L860.68,1398.26 L861.78,1407.71 L862.88,1416.94 L863.98,1425.94 L865.07,1434.73 L866.17,1443.29 L867.27,1451.63 L868.37,1459.76 L869.47,1467.66 L870.56,1475.36 L871.66,1482.84 L872.76,1490.11 L873.86,1497.17 L874.95,1504.03 L876.05,1510.68 L877.15,1517.14 L878.25,1523.39 L879.34,1529.45 L880.44,1535.33 L881.54,1541.01 L882.64,1546.51 L883.74,1551.82 L884.83,1556.96 L885.93,1561.92 L887.03,1566.72 L888.13,1571.34 L889.22,1575.80 L890.32,1580.10 L891.42,1584.24 L892.52,1588.23 L893.61,1592.07 L894.71,1595.76 L895.81,1599.30 L896.91,1602.71 L898.01,1605.98 L899.10,1609.12 L900.20,1612.13 L901.30,1615.02 L902.40,1617.78 L903.49,1620.42 L904.59,1622.95 L905.69,1625.36 L906.79,1627.67 L907.88,1629.87 L908.98,1631.96 L910.08,1633.96 L911.18,1635.85 L912.28,1637.66 L913.37,1639.37 L914.47,1640.99 L915.57,1642.53 L916.67,1643.98 L917.76,1645.35 L918.86,1646.64 L919.96,1647.85 L921.06,1648.99 L922.15,1650.06 L923.25,1651.06 L924.35,1651.99 L925.45,1652.85 L926.55,1653.65 L927.64,1654.38 L928.74,1655.06 L929.84,1655.67 L930.94,1656.23 L932.03,1656.72 L933.13,1657.17 L934.23,1657.55 L935.33,1657.89 L936.42,1658.17 L937.52,1658.40 L938.62,1658.58 L939.72,1658.72 L940.82,1658.80 L941.91,1658.84 L943.01,1658.82 L944.11,1658.76 L945.21,1658.66 L946.30,1658.51 L947.40,1658.31 L948.50,1658.07 L949.60,1657.78 L950.69,1657.45 L951.79,1657.07 L952.89,1656.65 L953.99,1656.18 L955.09,1655.66 L956.18,1655.11 L957.28,1654.50 L958.38,1653.85 L959.48,1653.16 L960.57,1652.42 L961.67,1651.63 L962.77,1650.79 L963.87,1649.91 L964.96,1648.98 L966.06,1647.99 L967.16,1646.96 L968.26,1645.88 L969.36,1644.75 L970.45,1643.57 L971.55,1642.33 L972.65,1641.05 L973.75,1639.71 L974.84,1638.31 L975.94,1636.86 L977.04,1635.35 L978.14,1633.79 L979.23,1632.17 L980.33,1630.48 L981.43,1628.74 L982.53,1626.94 L983.62,1625.08 L984.72,1623.16 L985.82,1621.17 L986.92,1619.12 L988.02,1617.01 L989.11,1614.82 L990.21,1612.58 L991.31,1610.26 L992.41,1607.88 L993.50,1605.43 L994.60,1602.91 L995.70,1600.32 L996.80,1597.66 L997.89,1594.93 L998.99,1592.12 L1000.09,1589.25 L1001.19,1586.30 L1002.29,1583.27 L1003.38,1580.18 L1004.48,1577.01 L1005.58,1573.76 L1006.68,1570.44 L1007.77,1567.04 L1008.87,1563.57 L1009.97,1560.03 L1011.07,1556.40 L1012.16,1552.71 L1013.26,1548.93 L1014.36,1545.09 L1015.46,1541.17 L1016.56,1537.17 L1017.65,1533.10 L1018.75,1528.96 L1019.85,1524.74 L1020.95,1520.45 L1022.04,1516.09 L1023.14,1511.66 L1024.24,1507.17 L1025.34,1502.60 L1026.43,1497.96 L1027.53,1493.26 L1028.63,1488.50 L1029.73,1483.67 L1030.83,1478.77 L1031.92,1473.82 L1033.02,1468.81 L1034.12,1463.75 L1035.22,1458.62 L1036.31,1453.45 L1037.41,1448.22 L1038.51,1442.95 L1039.61,1437.62 L1040.70,1432.26 L1041.80,1426.85 L1042.90,1421.40 L1044.00,1415.92 L1045.10,1410.40 L1046.19,1404.85 L1047.29,1399.27 L1048.39,1393.67 L1049.49,1388.04 L1050.58,1382.40 L1051.68,1376.74 L1052.78,1371.06 L1053.88,1365.37 L1054.97,1359.68 L1056.07,1353.98 L1057.17,1348.29 L1058.27,1342.59 L1059.37,1336.91 L1060.46,1331.23 L1061.56,1325.57 L1062.66,1319.92 L1063.76,1314.29 L1064.85,1308.69 L1065.95,1303.12 L1067.05,1297.57 L1068.15,1292.06 L1069.24,1286.59 L1070.34,1281.16 L1071.44,1275.77 L1072.54,1270.43 L1073.64,1265.14 L1074.73,1259.91 L1075.83,1254.73 L1076.93,1249.61 L1078.03,1244.56 L1079.12,1239.57 L1080.22,1234.65 L1081.32,1229.80 L1082.42,1225.03 L1083.51,1220.33 L1084.61,1215.71 L1085.71,1211.17 L1086.81,1206.71 L1087.91,1202.34 L1089.00,1198.05 L1090.10,1193.84 L1091.20,1189.73 L1092.30,1185.70 L1093.39,1181.77 L1094.49,1177.92 L1095.59,1174.16 L1096.69,1170.49 L1097.78,1166.92 L1098.88,1163.43 L1099.98,1160.03 L1101.08,1156.72 L1102.18,1153.50 L1103.27,1150.36 L1104.37,1147.30 L1105.47,1144.33 L1106.57,1141.44 L1107.66,1138.62 L1108.76,1135.87 L1109.86,1133.20 L1110.96,1130.59 L1112.05,1128.05 L1113.15,1125.56 L1114.25,1123.13 L1115.35,1120.75 L1116.45,1118.41 L1117.54,1116.11 L1118.64,1113.85 L1119.74,1111.61 L1120.84,1109.40 L1121.93,1107.20 L1123.03,1105.00 L1124.13,1102.81 L1125.23,1100.62 L1126.32,1098.41 L1127.42,1096.17 L1128.52,1093.91 L1129.62,1091.61 L1130.72,1089.27 L1131.81,1086.87 L1132.91,1084.41 L1134.01,1081.87 L1135.11,1079.25 L1136.20,1076.54 L1137.30,1073.73 L1138.40,1070.81 L1139.50,1067.77 L1140.59,1064.61 L1141.69,1061.30 L1142.79,1057.84 L1143.89,1054.23 L1144.99,1050.44 L1146.08,1046.48 L1147.18,1042.34 L1148.28,1037.99 L1149.38,1033.44 L1150.47,1028.67 L1151.57,1023.68 L1152.67,1018.46 L1153.77,1013.00 L1154.86,1007.28 L1155.96,1001.31 L1157.06,995.07 L1158.16,988.56 L1159.26,981.77 L1160.35,974.70 L1161.45,967.33 L1162.55,959.67 L1163.65,951.70 L1164.74,943.43 L1165.84,934.84 L1166.94,925.94 L1168.04,916.72 L1169.13,907.19 L1170.23,897.33 L1171.33,887.15 L1172.43,876.65 L1173.53,865.83 L1174.62,854.68 L1175.72,843.22 L1176.82,831.44 L1177.92,819.36 L1179.01,806.96 L1180.11,794.26 L1181.21,781.27 L1182.31,767.99 L1183.40,754.42 L1184.50,740.58 L1185.60,726.48 L1186.70,712.13 L1187.80,697.53 L1188.89,682.70 L1189.99,667.66 L1191.09,652.41 L1192.19,636.97 L1193.28,621.35 L1194.38,605.58 L1195.48,589.66 L1196.58,573.62 L1197.67,557.47 L1198.77,541.24 L1199.87,524.93 L1200.97,508.57 L1202.07,492.19 L1203.16,475.79 L1204.26,459.41 L1205.36,443.07 L1206.46,426.79 L1207.55,410.58 L1208.65,394.48 L1209.75,378.51 L1210.85,362.69 L1211.94,347.04 L1213.04,331.60 L1214.14,316.37 L1215.24,301.40 L1216.34,286.70 L1217.43,272.29 L1218.53,258.20 L1219.63,244.46 L1220.73,231.08 L1221.82,218.09 L1222.92,205.52 L1224.02,193.38 L1225.12,181.70 L1226.21,170.50 L1227.31,159.80 L1228.41,149.63 L1229.51,139.99 L1230.61,130.91 L1231.70,122.41 L1232.80,114.50 L1233.90,107.20 L1235.00,100.54 L1236.09,94.51 L1237.19,89.14 L1238.29,84.44 L1239.39,80.42 L1240.48,77.09 L1241.58,74.46 L1242.68,72.54 L1243.78,71.34 L1244.88,70.86 L1245.97,71.10 L1247.07,72.08 L1248.17,73.79 L1249.27,76.24 L1250.36,79.42 L1251.46,83.34 L1252.56,87.99 L1253.66,93.37 L1254.75,99.47 L1255.85,106.29 L1256.95,113.83 L1258.05,122.06 L1259.14,131.00 L1260.24,140.61 L1261.34,150.90 L1262.44,161.85 L1263.54,173.45 L1264.63,185.68 L1265.73,198.53 L1266.83,211.98 L1267.93,226.02 L1269.02,240.62 L1270.12,255.77 L1271.22,271.46 L1272.32,287.65 L1273.41,304.32 L1274.51,321.47 L1275.61,339.06 L1276.71,357.08 L1277.81,375.50 L1278.90,394.30 L1280.00,413.45 L1281.10,432.93 L1282.20,452.73 L1283.29,472.80 L1284.39,493.14 L1285.49,513.72 L1286.59,534.50 L1287.68,555.48 L1288.78,576.62 L1289.88,597.90 L1290.98,619.30 L1292.08,640.80 L1293.17,662.37 L1294.27,683.98 L1295.37,705.63 L1296.47,727.28 L1297.56,748.91 L1298.66,770.50 L1299.76,792.04 L1300.86,813.50 L1301.95,834.87 L1303.05,856.12 L1304.15,877.23 L1305.25,898.19 L1306.35,918.99 L1307.44,939.60 L1308.54,960.02 L1309.64,980.21 L1310.74,1000.18 L1311.83,1019.91 L1312.93,1039.39 L1314.03,1058.60 L1315.13,1077.53 L1316.22,1096.18 L1317.32,1114.53 L1318.42,1132.57 L1319.52,1150.30 L1320.62,1167.71 L1321.71,1184.79 L1322.81,1201.54 L1323.91,1217.94 L1325.01,1234.01 L1326.10,1249.72 L1327.20,1265.09 L1328.30,1280.10 L1329.40,1294.76 L1330.49,1309.06 L1331.59,1323.00 L1332.69,1336.58 L1333.79,1349.80 L1334.89,1362.67 L1335.98,1375.18 L1337.08,1387.34 L1338.18,1399.15 L1339.28,1410.60 L1340.37,1421.72 L1341.47,1432.48 L1342.57,1442.91 L1343.67,1453.01 L1344.76,1462.77 L1345.86,1472.21 L1346.96,1481.33 L1348.06,1490.13 L1349.16,1498.62 L1350.25,1506.81 L1351.35,1514.71 L1352.45,1522.31 L1353.55,1529.62 L1354.64,1536.66 L1355.74,1543.42 L1356.84,1549.92 L1357.94,1556.15 L1359.03,1562.14 L1360.13,1567.88 L1361.23,1573.38 L1362.33,1578.64 L1363.43,1583.68 L1364.52,1588.51 L1365.62,1593.12 L1366.72,1597.52 L1367.82,1601.73 L1368.91,1605.74 L1370.01,1609.57 L1371.11,1613.22 L1372.21,1616.69 L1373.30,1620.00 L1374.40,1623.15 L1375.50,1626.14 L1376.60,1628.99 L1377.70,1631.69 L1378.79,1634.26 L1379.89,1636.69 L1380.99,1639.00 L1382.09,1641.19 L1383.18,1643.26 L1384.28,1645.22 L1385.38,1647.07 L1386.48,1648.83 L1387.57,1650.48 L1388.67,1652.05 L1389.77,1653.52 L1390.87,1654.92 L1391.97,1656.23 L1393.06,1657.47 L1394.16,1658.63 L1395.26,1659.73 L1396.36,1660.76 L1397.45,1661.73 L1398.55,1662.64 L1399.65,1663.49 L1400.75,1664.30 L1401.84,1665.05 L1402.94,1665.75 L1404.04,1666.41 L1405.14,1667.03 L1406.24,1667.61 L1407.33,1668.15 L1408.43,1668.66 L1409.53,1669.13 L1410.63,1669.58 L1411.72,1669.99 L1412.82,1670.37 L1413.92,1670.73 L1415.02,1671.06 L1416.11,1671.38 L1417.21,1671.67 L1418.31,1671.93 L1419.41,1672.18 L1420.51,1672.42 L1421.60,1672.63 L1422.70,1672.83 L1423.80,1673.02 L1424.90,1673.19 L1425.99,1673.35 L1427.09,1673.50 L1428.19,1673.64 L1429.29,1673.76 L1430.38,1673.88 L1431.48,1673.99 L1432.58,1674.09 L1433.68,1674.18 L1434.78,1674.26 L1435.87,1674.34 L1436.97,1674.41 L1438.07,1674.48 L1439.17,1674.54 L1440.26,1674.60 L1441.36,1674.65 L1442.46,1674.70 L1443.56,1674.74 L1444.65,1674.78 L1445.75,1674.82 L1446.85,1674.85 L1447.95,1674.88 L1449.05,1674.91 L1450.14,1674.94 L1451.24,1674.96 L1452.34,1674.98 L1453.44,1675.00 L1454.53,1675.02 L1455.63,1675.04 L1456.73,1675.05 L1457.83,1675.07 L1458.92,1675.08 L1460.02,1675.09 L1461.12,1675.10 L1462.22,1675.11 L1463.32,1675.12 L1464.41,1675.13 L1465.51,1675.13 L1466.61,1675.14 L1467.71,1675.15 L1468.80,1675.15 L1469.90,1675.16 L1471.00,1675.16 L1472.10,1675.16 L1473.19,1675.17 L1474.29,1675.17 L1475.39,1675.17 L1476.49,1675.18 L1477.59,1675.18 L1478.68,1675.18 L1479.78,1675.18 L1480.88,1675.18 L1481.98,1675.19 L1483.07,1675.19 L1484.17,1675.19 L1485.27,1675.19 L1486.37,1675.19 L1487.46,1675.19 L1488.56,1675.19 L1489.66,1675.19 L1490.76,1675.19 L1491.86,1675.19 L1492.95,1675.20 L1494.05,1675.20 L1495.15,1675.20 L1496.25,1675.20 L1497.34,1675.20 L1498.44,1675.20 L1499.54,1675.20 L1500.64,1675.20 L1501.73,1675.20 L1502.83,1675.20 L1503.93,1675.20 L1505.03,1675.20 L1506.12,1675.20 L1507.22,1675.20 L1508.32,1675.20 L1509.42,1675.20 L1510.52,1675.20 L1511.61,1675.20 L1512.71,1675.20 L1513.81,1675.20 L1514.91,1675.20 L1516.00,1675.20 L1517.10,1675.20 L1518.20,1675.20 L1519.30,1675.20 L1520.39,1675.20 L1521.49,1675.20 L1522.59,1675.20 L1523.69,1675.20 L1524.79,1675.20 L1525.88,1675.20 L1526.98,1675.20 L1528.08,1675.20 L1529.18,1675.20 L1530.27,1675.20 L1531.37,1675.20 L1532.47,1675.20 L1533.57,1675.20 L1534.66,1675.20 L1535.76,1675.20 L1536.86,1675.20 L1537.96,1675.20 L1539.06,1675.20 L1540.15,1675.20 L1541.25,1675.20 L1542.35,1675.20 L1543.45,1675.20 L1544.54,1675.20 L1545.64,1675.20 L1546.74,1675.20 L1547.84,1675.20 L1548.93,1675.20 L1550.03,1675.20 L1551.13,1675.20 L1552.23,1675.20 L1553.33,1675.20 L1554.42,1675.20 L1555.52,1675.20 L1556.62,1675.20 L1557.72,1675.20 L1558.81,1675.20 L1559.91,1675.20 L1561.01,1675.20 L1562.11,1675.20 L1563.20,1675.20 L1564.30,1675.20 L1565.40,1675.20 L1566.50,1675.20 L1567.60,1675.20 L1568.69,1675.20 L1569.79,1675.20 L1570.89,1675.20 L1571.99,1675.20 L1573.08,1675.20 L1574.18,1675.20 L1575.28,1675.20 L1576.38,1675.20 L1577.47,1675.20 L1578.57,1675.20 L1579.67,1675.20 L1580.77,1675.20 L1581.87,1675.20 L1582.96,1675.20 L1584.06,1675.20 L1585.16,1675.20 L1586.26,1675.20 L1587.35,1675.20 L1588.45,1675.20 L1589.55,1675.20 L1590.65,1675.20 L1591.74,1675.20 L1592.84,1675.20 L1593.94,1675.20 L1595.04,1675.20 L1596.14,1675.20 L1597.23,1675.20 L1598.33,1675.20 L1599.43,1675.20 L1600.53,1675.20 L1601.62,1675.20 L1602.72,1675.20 L1603.82,1675.20 L1604.92,1675.20 L1606.01,1675.20 L1607.11,1675.20 L1608.21,1675.20 L1609.31,1675.20 L1610.41,1675.20 L1611.50,1675.20 L1612.60,1675.20 L1613.70,1675.20 L1614.80,1675.20 L1615.89,1675.20 L1616.99,1675.20 L1618.09,1675.20 L1619.19,1675.20 L1620.28,1675.20 L1621.38,1675.20 L1622.48,1675.20 L1623.58,1675.20 L1624.68,1675.20 L1625.77,1675.20 L1626.87,1675.20 L1627.97,1675.20 L1629.07,1675.20 L1630.16,1675.20 L1631.26,1675.20 L1632.36,1675.20 L1633.46,1675.20 L1634.55,1675.20 L1635.65,1675.20 L1636.75,1675.20 L1637.85,1675.20 L1638.95,1675.20 L1640.04,1675.20 L1641.14,1675.20 L1642.24,1675.20 L1643.34,1675.20 L1644.43,1675.20 L1645.53,1675.20 L1646.63,1675.20 L1647.73,1675.20 L1648.82,1675.20 L1649.92,1675.20 L1651.02,1675.20 L1652.12,1675.20 L1653.22,1675.20 L1654.31,1675.20 L1655.41,1675.20 L1656.51,1675.20 L1657.61,1675.20 L1658.70,1675.20 L1659.80,1675.20 L1660.90,1675.20 L1662.00,1675.20 L1663.09,1675.20 L1664.19,1675.20 L1665.29,1675.20 L1666.39,1675.20 L1667.49,1675.20 L1668.58,1675.20 L1669.68,1675.20 L1670.78,1675.20 L1671.88,1675.20 L1672.97,1675.20 L1674.07,1675.20 L1675.17,1675.20 L1676.27,1675.20 L1677.36,1675.20 L1678.46,1675.20 L1679.56,1675.20 L1680.66,1675.20 L1681.76,1675.20 L1682.85,1675.20 L1683.95,1675.20 L1685.05,1675.20 L1686.15,1675.20 L1687.24,1675.20 L1688.34,1675.20 L1689.44,1675.20 L1690.54,1675.20 L1691.63,1675.20 L1692.73,1675.20 L1693.83,1675.20 L1694.93,1675.20 L1696.03,1675.20 L1697.12,1675.20 L1698.22,1675.20 L1699.32,1675.20 L1700.42,1675.20 L1701.51,1675.20 L1702.61,1675.20 L1703.71,1675.20 L1704.81,1675.20 L1705.90,1675.20 L1707.00,1675.20 L1708.10,1675.20 L1709.20,1675.20 L1710.30,1675.20 L1711.39,1675.20 L1712.49,1675.20 L1713.59,1675.20 L1714.69,1675.20 L1715.78,1675.20 L1716.88,1675.20 L1717.98,1675.20 L1719.08,1675.20 L1720.17,1675.20 L1721.27,1675.20 L1722.37,1675.20 L1723.47,1675.20 L1724.57,1675.20 L1725.66,1675.20 L1726.76,1675.20 L1727.86,1675.20 L1728.96,1675.20 L1730.05,1675.20 L1731.15,1675.20 L1732.25,1675.20 L1733.35,1675.20 L1734.44,1675.20 L1735.54,1675.20 L1736.64,1675.20 L1737.74,1675.20 L1738.84,1675.20 L1739.93,1675.20 L1741.03,1675.20 L1742.13,1675.20 L1743.23,1675.20 L1744.32,1675.20 L1745.42,1675.20 L1746.52,1675.20 L1747.62,1675.20 L1748.71,1675.20 L1749.81,1675.20 L1750.91,1675.20 L1752.01,1675.20 L1753.11,1675.20 L1754.20,1675.20 L1755.30,1675.20 L1756.40,1675.20 L1757.50,1675.20 L1758.59,1675.20 L1759.69,1675.20 L1760.79,1675.20 L1761.89,1675.20 L1762.98,1675.20 L1764.08,1675.20 L1765.18,1675.20 L1766.28,1675.20 L1767.38,1675.20 L1768.47,1675.20 L1769.57,1675.20 L1770.67,1675.20 L1771.77,1675.20 L1772.86,1675.20 L1773.96,1675.20 L1775.06,1675.20 L1776.16,1675.20 L1777.25,1675.20 L1778.35,1675.20 L1779.45,1675.20 L1780.55,1675.20 L1781.64,1675.20 L1782.74,1675.20 L1783.84,1675.20 L1784.94,1675.20 L1786.04,1675.20 L1787.13,1675.20 L1788.23,1675.20 L1789.33,1675.20 L1790.43,1675.20 L1791.52,1675.20 L1792.62,1675.20 L1793.72,1675.20 L1794.82,1675.20 L1795.91,1675.20 L1797.01,1675.20 L1798.11,1675.20 L1799.21,1675.20 L1800.31,1675.20 L1801.40,1675.20 L1802.50,1675.20 L1803.60,1675.20 L1804.70,1675.20 L1805.79,1675.20 L1806.89,1675.20 L1807.99,1675.20 L1809.09,1675.20 L1810.18,1675.20 L1811.28,1675.20 L1812.38,1675.20 L1813.48,1675.20 L1814.58,1675.20 L1815.67,1675.20 L1816.77,1675.20 L1817.87,1675.20 L1818.97,1675.20 L1820.06,1675.20 L1821.16,1675.20 L1822.26,1675.20 L1823.36,1675.20 L1824.45,1675.20 L1825.55,1675.20 L1826.65,1675.20 L1827.75,1675.20 L1828.85,1675.20 L1829.94,1675.20 L1831.04,1675.20 L1832.14,1675.20 L1833.24,1675.20 L1834.33,1675.20 L1835.43,1675.20 L1836.53,1675.20 L1837.63,1675.20 L1838.72,1675.20 L1839.82,1675.20 L1840.92,1675.20 L1842.02,1675.20 L1843.12,1675.20 L1844.21,1675.20 L1845.31,1675.20 L1846.41,1675.20 L1847.51,1675.20 L1848.60,1675.20 L1849.70,1675.20 L1850.80,1675.20 L1851.90,1675.20 L1852.99,1675.20 L1854.09,1675.20 L1855.19,1675.20 L1856.29,1675.20 L1857.39,1675.20 L1858.48,1675.20 L1859.58,1675.20 L1860.68,1675.20 L1861.78,1675.20 L1862.87,1675.20 L1863.97,1675.20 L1865.07,1675.20 L1866.17,1675.20 L1867.26,1675.20 L1868.36,1675.20 L1869.46,1675.20 L1870.56,1675.20 L1871.66,1675.20 L1872.75,1675.20 L1873.85,1675.20 L1874.95,1675.20 L1876.05,1675.20 L1877.14,1675.20 L1878.24,1675.20 L1879.34,1675.20 L1880.44,1675.20 L1881.53,1675.20 L1882.63,1675.20 L1883.73,1675.20 L1884.83,1675.20 L1885.93,1675.20 L1887.02,1675.20 L1888.12,1675.20 L1889.22,1675.20 L1890.32,1675.20 L1891.41,1675.20 L1892.51,1675.20 L1893.61,1675.20 L1894.71,1675.20 L1895.80,1675.20 L1896.90,1675.20 L1898.00,1675.20 L1899.10,1675.20 L1900.20,1675.20 L1901.29,1675.20 L1902.39,1675.20 L1903.49,1675.20 L1904.59,1675.20 L1905.68,1675.20 L1906.78,1675.20 L1907.88,1675.20 L1908.98,1675.20 L1910.07,1675.20 L1911.17,1675.20 L1912.27,1675.20 L1913.37,1675.20 L1914.47,1675.20 L1915.56,1675.20 L1916.66,1675.20 L1917.76,1675.20 L1918.86,1675.20 L1919.95,1675.20 L1921.05,1675.20 L1922.15,1675.20 L1923.25,1675.20 L1924.34,1675.20 L1925.44,1675.20 L1926.54,1675.20 L1927.64,1675.20 L1928.74,1675.20 L1929.83,1675.20 L1930.93,1675.20 L1932.03,1675.20 L1933.13,1675.20 L1934.22,1675.20 L1935.32,1675.20 L1936.42,1675.20 L1937.52,1675.20 L1938.61,1675.20 L1939.71,1675.20 L1940.81,1675.20 L1941.91,1675.20 L1943.01,1675.20 L1944.10,1675.20 L1945.20,1675.20 L1946.30,1675.20 L1947.40,1675.20 L1948.49,1675.20 L1949.59,1675.20 L1950.69,1675.20 L1951.79,1675.20 L1952.88,1675.20 L1953.98,1675.20 L1955.08,1675.20 L1956.18,1675.20 L1957.28,1675.20 L1958.37,1675.20 L1959.47,1675.20 L1960.57,1675.20 L1961.67,1675.20 L1962.76,1675.20 L1963.86,1675.20 L1964.96,1675.20 L1966.06,1675.20 L1967.15,1675.20 L1968.25,1675.20 L1969.35,1675.20 L1970.45,1675.20 L1971.55,1675.20 L1972.64,1675.20"/></g>
<g class="tick" text-anchor="middle" style="letter-spacing:-1.2px">
<text x="251.0" y="1767.6">0</text>
<text x="512.9" y="1767.6">100</text>
<text x="776.5" y="1767.6">200</text>
<text x="1038.0" y="1767.6">300</text>
<text x="1299.5" y="1767.6">400</text>
<text x="1559.5" y="1767.6">500</text>
<text x="1823.5" y="1767.6">600</text>
<text x="2084.5" y="1767.6">700</text>
<text x="2345.5" y="1767.6">800</text>
</g>
<g class="tick" text-anchor="end">
<text x="227.8" y="150.0">300</text>
<text x="227.8" y="410.5">250</text>
<text x="227.8" y="671.0">200</text>
<text x="227.8" y="928.5">150</text>
<text x="227.8" y="1188.0">100</text>
<text x="227.8" y="1444.0">50</text>
<text x="227.8" y="1705.0">0</text>
</g>
<rect x="1606.6" y="125.6" width="246.6" height="103" rx="3" ry="3" fill="rgb(255,0,0)" fill-opacity="0.3" stroke="#282828" stroke-width="5.6"/>
<rect x="1606.6" y="265.5" width="246.6" height="103" rx="3" ry="3" fill="rgb(0,255,0)" fill-opacity="0.3" stroke="#282828" stroke-width="5.6"/>
<rect x="1606.6" y="404.7" width="246.6" height="103" rx="3" ry="3" fill="rgb(0,0,255)" fill-opacity="0.3" stroke="#282828" stroke-width="5.6"/>
<rect x="1606" y="584.9" width="247" height="24.8" rx="3" ry="3" fill="#000"/>
</g>
<text class="axl" x="1328.5" y="1867.0" text-anchor="middle">Sampling point</text>
<text class="axl" transform="translate(66.7,853.0) rotate(-90)" text-anchor="middle">Amplitude</text>
<g id="legend">
<circle cx="1734.3" cy="726.8" r="27.8" fill="#ff00ff" filter="url(#soft3)"/>
<circle cx="1734.8" cy="854" r="28.3" fill="#00ffff" filter="url(#soft3)"/>
<text class="ser" x="1878.0" y="194.5">Gauss component 1</text>
<text class="ser" x="1878.0" y="323.7">Gauss component 2</text>
<text class="ser" x="1870.5" y="469.1">Gauss component 3</text>
<text class="ser" x="1870.5" y="607.1">Filtered waveform</text>
<text class="ser" x="1877.5" y="743.2">Peak point</text>
<text class="ser" x="1877.5" y="880.6">Point of inflection</text>
</g>
<g id="markers" filter="url(#soft2)">
<circle cx="908.0" cy="382.2" r="33" fill="#ff00ff"/>
<circle cx="1480.3" cy="68.6" r="33" fill="#ff00ff"/>
<circle cx="840.5" cy="915.7" r="33" fill="#00ffff"/>
<circle cx="972.5" cy="881.8" r="33" fill="#00ffff"/>
<circle cx="1254.3" cy="1360.8" r="33" fill="#00ffff"/>
<circle cx="1333.6" cy="1109.2" r="33" fill="#00ffff"/>
<circle cx="1429.5" cy="487.0" r="33" fill="#00ffff"/>
<circle cx="1539.4" cy="678.0" r="33" fill="#00ffff"/>
</g>
<g id="annotations" class="ser">
<text x="849.0" y="328.8">A1</text>
<text x="1325.0" y="143.9">A2</text>
<text x="678.0" y="911.6">I1</text>
<text x="1044.5" y="857.6">I2</text>
<text x="1115.5" y="1350.3">I3</text>
<text x="1226.5" y="1093.8">I4</text>
<text x="1298.5" y="527.5">I5</text>
<text x="1590.5" y="711.7">I6</text>
<text x="849.5" y="1294.6">G1</text>
<text x="1287.5" y="1441.4">G2</text>
<text x="1470.0" y="1293.9">G3</text>
</g>
</svg>
</body></html>
